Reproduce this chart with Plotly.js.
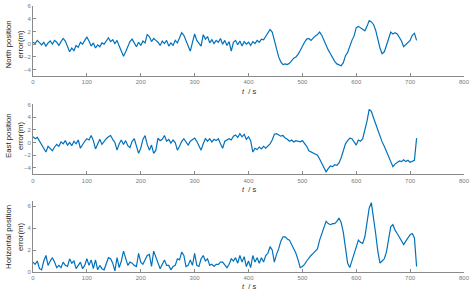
<!DOCTYPE html>
<html><head><meta charset="utf-8">
<script src="https://cdn.plot.ly/plotly-3.0.1.min.js"></script>
<style>html,body{margin:0;padding:0;background:#fff}#chart{width:474px;height:295px}</style>
</head><body><div id="chart"></div>
<script>
// sampling of the series (seconds)
const T0 = 0, DT = 4;

const northError = [
 0.3, 0.1, 0.6, 0.2, -0.1, 0.3, -0.3, 0.2, 0.5, 0.0,
 0.6, 0.3, -0.2, 0.4, 0.9, 0.5, -0.4, -1.2, -0.6, -1.0,
 -0.2, -0.5, 0.3, 0.0, 0.6, 1.1, 0.5, -0.3, 0.2, -0.6,
 -0.1, -0.4, 0.2, 0.0, 0.5, 1.0, 0.4, 0.7, 0.1, 0.6,
 -0.3, -1.0, -1.9, -1.2, -0.3, 0.4, 0.8, 0.2, -0.4, 0.3,
 -0.2, 0.5, 0.2, 1.5, 1.2, 0.4, 0.9, 0.6, 0.3, -0.2,
 0.5, 0.1, 0.6, -0.3, 0.2, -0.2, 0.6, 0.2, 0.9, 1.8,
 1.4, 0.5, -0.4, -1.1, 0.3, 1.6, 0.6, 0.2, -0.3, 1.5,
 0.8, 1.2, 0.2, 0.7, 0.1, 0.6, 0.3, 0.9, 0.0, 0.6,
 -0.2, 0.4, -1.1, 0.3, 0.6, -0.1, 0.5, -0.3, 0.4, 0.0,
 0.3, -0.2, 0.4, 0.1, 0.6, 0.3, 0.8, 0.7, 1.2, 1.6,
 2.3, 1.9, 0.6, -0.8, -2.0, -2.8, -3.2, -3.1, -3.2, -3.0,
 -2.6, -2.2, -2.0, -1.6, -1.0, -0.2, 0.3, 0.8, 0.9, 0.6,
 1.0, 1.3, 1.5, 1.9, 1.4, 0.6, -0.2, -0.9, -1.5, -2.2,
 -2.7, -3.1, -3.3, -3.4, -2.9, -1.8, -1.3, -0.3, 0.6, 1.3,
 2.6, 2.8, 2.6, 2.3, 2.1, 2.8, 3.7, 3.5, 3.1, 2.2,
 0.8, -0.6, -1.5, -1.2, -0.2, 1.0, 1.9, 1.6, 1.8, 1.6,
 1.0, 0.5, -0.4, -0.1, 0.2, 0.6, 1.4, 1.7, 0.6
];

const eastError = [
 0.9, 0.6, 0.8, 0.2, -0.3, -1.0, -1.5, -0.6, -0.9, -1.3,
 -0.7, -0.3, -0.6, 0.1, -0.2, 0.3, -0.4, 0.0, -0.5, 0.2,
 -0.2, 0.4, -0.9, -0.3, 0.2, 0.6, 0.4, 1.1, 0.3, -1.0,
 -0.2, 0.5, -0.3, 0.2, 0.6, 0.9, 1.1, 0.5, 0.0, -1.2,
 -0.2, 0.4, -0.3, 0.3, -0.5, -0.8, 0.2, 0.6, -0.4, -1.7,
 -0.9, 0.5, 1.1, -0.3, -1.2, -0.4, -1.7, -1.2, 0.7, 0.3,
 0.5, 1.1, 0.2, 0.5, -0.1, 0.4, 0.0, -1.2, -0.6, 0.2,
 0.6, 0.1, -0.4, 0.2, 0.5, 0.7, 0.2, -0.5, -1.2, -0.2,
 0.6, 0.2, 0.6, 0.1, 0.5, 0.3, 0.6, -0.2, -0.9, 0.2,
 0.4, 0.6, 0.4, 1.0, 1.2, 0.8, 1.4, 0.9, 1.3, 0.5,
 0.9, 0.3, -1.5, -0.9, -1.1, -0.7, -1.0, -0.6, -0.9, -0.5,
 -0.2, 0.4, 1.3, 1.4, 1.2, 1.0, 1.1, 0.7, 0.5, 0.2,
 0.4, 0.1, 0.3, 0.2, 0.1, 0.3, -0.1, -0.6, -1.3, -1.5,
 -1.6, -1.8, -2.0, -2.6, -3.3, -4.0, -4.6, -4.1, -3.7, -3.8,
 -3.5, -3.6, -3.2, -2.4, -1.2, -0.2, 0.3, 0.7, 0.6, 0.0,
 -0.4, 0.4, 0.2, 0.6, 1.8, 3.4, 5.2, 4.9, 3.9, 2.9,
 1.9, 0.9, 0.1, -0.6, -1.4, -2.3, -3.2, -3.8, -3.4, -3.2,
 -2.9, -3.0, -2.7, -3.0, -2.8, -3.1, -2.9, -2.8, 0.7
];

const horizontalError = [
 0.9, 0.7, 1.0, 0.3, 0.2, 1.0, 1.5, 0.6, 1.0, 1.3,
 0.9, 0.4, 0.6, 0.4, 0.9, 0.6, 0.5, 1.2, 0.8, 1.0,
 0.3, 0.6, 0.9, 0.3, 0.6, 1.2, 0.6, 1.1, 0.3, 1.1,
 0.2, 0.6, 0.3, 0.2, 0.8, 1.3, 1.2, 0.8, 0.1, 1.3,
 0.4, 1.0, 1.9, 1.2, 0.6, 0.9, 0.8, 0.6, 0.5, 1.7,
 0.9, 0.7, 1.1, 1.5, 1.6, 0.5, 1.9, 1.3, 0.8, 0.3,
 0.7, 1.1, 0.6, 0.6, 0.2, 0.5, 0.6, 1.2, 1.1, 1.8,
 1.5, 0.5, 0.6, 1.1, 0.6, 1.7, 0.6, 0.5, 1.2, 1.5,
 1.0, 1.2, 0.6, 0.7, 0.5, 0.7, 0.7, 0.9, 0.9, 0.6,
 0.4, 0.7, 1.2, 1.0, 1.3, 0.8, 1.5, 0.9, 1.4, 0.5,
 1.0, 0.4, 1.5, 0.9, 1.3, 0.8, 1.3, 0.9, 1.5, 1.7,
 2.3, 2.0, 0.9, 1.6, 2.1, 2.8, 3.2, 3.2, 3.0, 2.9,
 2.5, 2.1, 1.7, 1.1, 0.4, 0.5, 0.7, 1.0, 1.3, 1.5,
 1.7, 1.9, 2.1, 2.9, 3.5, 4.0, 4.6, 4.4, 4.3, 4.4,
 4.4, 4.6, 4.9, 4.5, 3.6, 2.2, 0.8, 0.4, 1.0, 1.6,
 2.3, 2.9, 2.7, 2.6, 3.2, 4.4, 5.8, 6.3, 5.0, 3.5,
 1.9, 0.8, 1.0, 1.2, 1.8, 3.0, 4.1, 4.3, 3.8, 3.5,
 3.2, 2.9, 2.5, 2.8, 3.1, 3.4, 3.5, 3.1, 0.5
];

const xTicks = [0, 100, 200, 300, 400, 500, 600, 700, 800];
const yTicksNE = [-4, -2, 0, 2, 4, 6];
const yTicksH = [0, 2, 4, 6];
const yTitles = [['North position', 'error(m)'], ['East position', 'error(m)'], ['Horizontal position', 'error(m)']];
const xTitle = '<i>t</i>  / s';

const LINE = '#0072BD';
const AX = '#8a8a8a';
const FONT = 'Liberation Sans, Arial, sans-serif';

function trace(y, ax) {
  return {type: 'scatter', mode: 'lines', x0: T0, dx: DT, y: y,
          xaxis: 'x' + ax, yaxis: 'y' + ax,
          line: {color: LINE, width: 1.2}, hoverinfo: 'skip'};
}
const data = [trace(northError, ''), trace(eastError, '2'), trace(horizontalError, '3')];

function xa(anchor) {
  return {range: [0, 800], tickvals: xTicks, ticks: 'inside', ticklen: 3, tickcolor: AX,
          showline: true, linecolor: AX, linewidth: 1, showgrid: false, zeroline: false,
          tickfont: {size: 6, color: '#7a7a7a', family: FONT}, anchor: anchor};
}
function ya(range, ticks, domain, anchor) {
  return {range: range, tickvals: ticks, ticks: 'inside', ticklen: 3, tickcolor: AX,
          showline: true, linecolor: AX, linewidth: 1, showgrid: false, zeroline: false,
          tickfont: {size: 6, color: '#7a7a7a', family: FONT}, domain: domain, anchor: anchor};
}

// pixel helpers for the annotation placement
const PT = 6, PB = 272, PL = 33, PR = 464;
const py = p => (PB - p) / (PB - PT);
const px = p => (p - PL) / (PR - PL);

const titleCenters = [44.5, 136, 237];
const xTitleY = [91.5, 189.3, 286.7];
const xRefs = ['x', 'x2', 'x3'];
const annotations = [];
yTitles.forEach((lines, i) => {
  [8, 20].forEach((cx, j) => {
    annotations.push({text: lines[j], xref: 'paper', yref: 'paper', x: px(cx), y: py(titleCenters[i]),
      xanchor: 'center', yanchor: 'middle', textangle: -90, showarrow: false,
      font: {size: 7.8, color: '#222', family: FONT}});
  });
  annotations.push({text: xTitle, xref: xRefs[i], yref: 'paper', x: 400, y: py(xTitleY[i]),
    xanchor: 'center', yanchor: 'middle', showarrow: false,
    font: {size: 7.5, color: '#333', family: FONT}});
});

const layout = {
  width: 474, height: 295,
  margin: {l: PL, r: 474 - PR, t: PT, b: 295 - PB},
  paper_bgcolor: '#fff', plot_bgcolor: '#fff',
  showlegend: false,
  font: {family: FONT},
  xaxis: xa('y'), xaxis2: xa('y2'), xaxis3: xa('y3'),
  yaxis: ya([-5, 6], yTicksNE, [py(76), 1], 'x'),
  yaxis2: ya([-5, 6], yTicksNE, [py(174.3), py(104.4)], 'x2'),
  yaxis3: ya([0, 6.5], yTicksH, [0, py(200.5)], 'x3'),
  annotations: annotations
};

Plotly.newPlot('chart', data, layout, {staticPlot: true, displayModeBar: false});
</script>
</body></html>
